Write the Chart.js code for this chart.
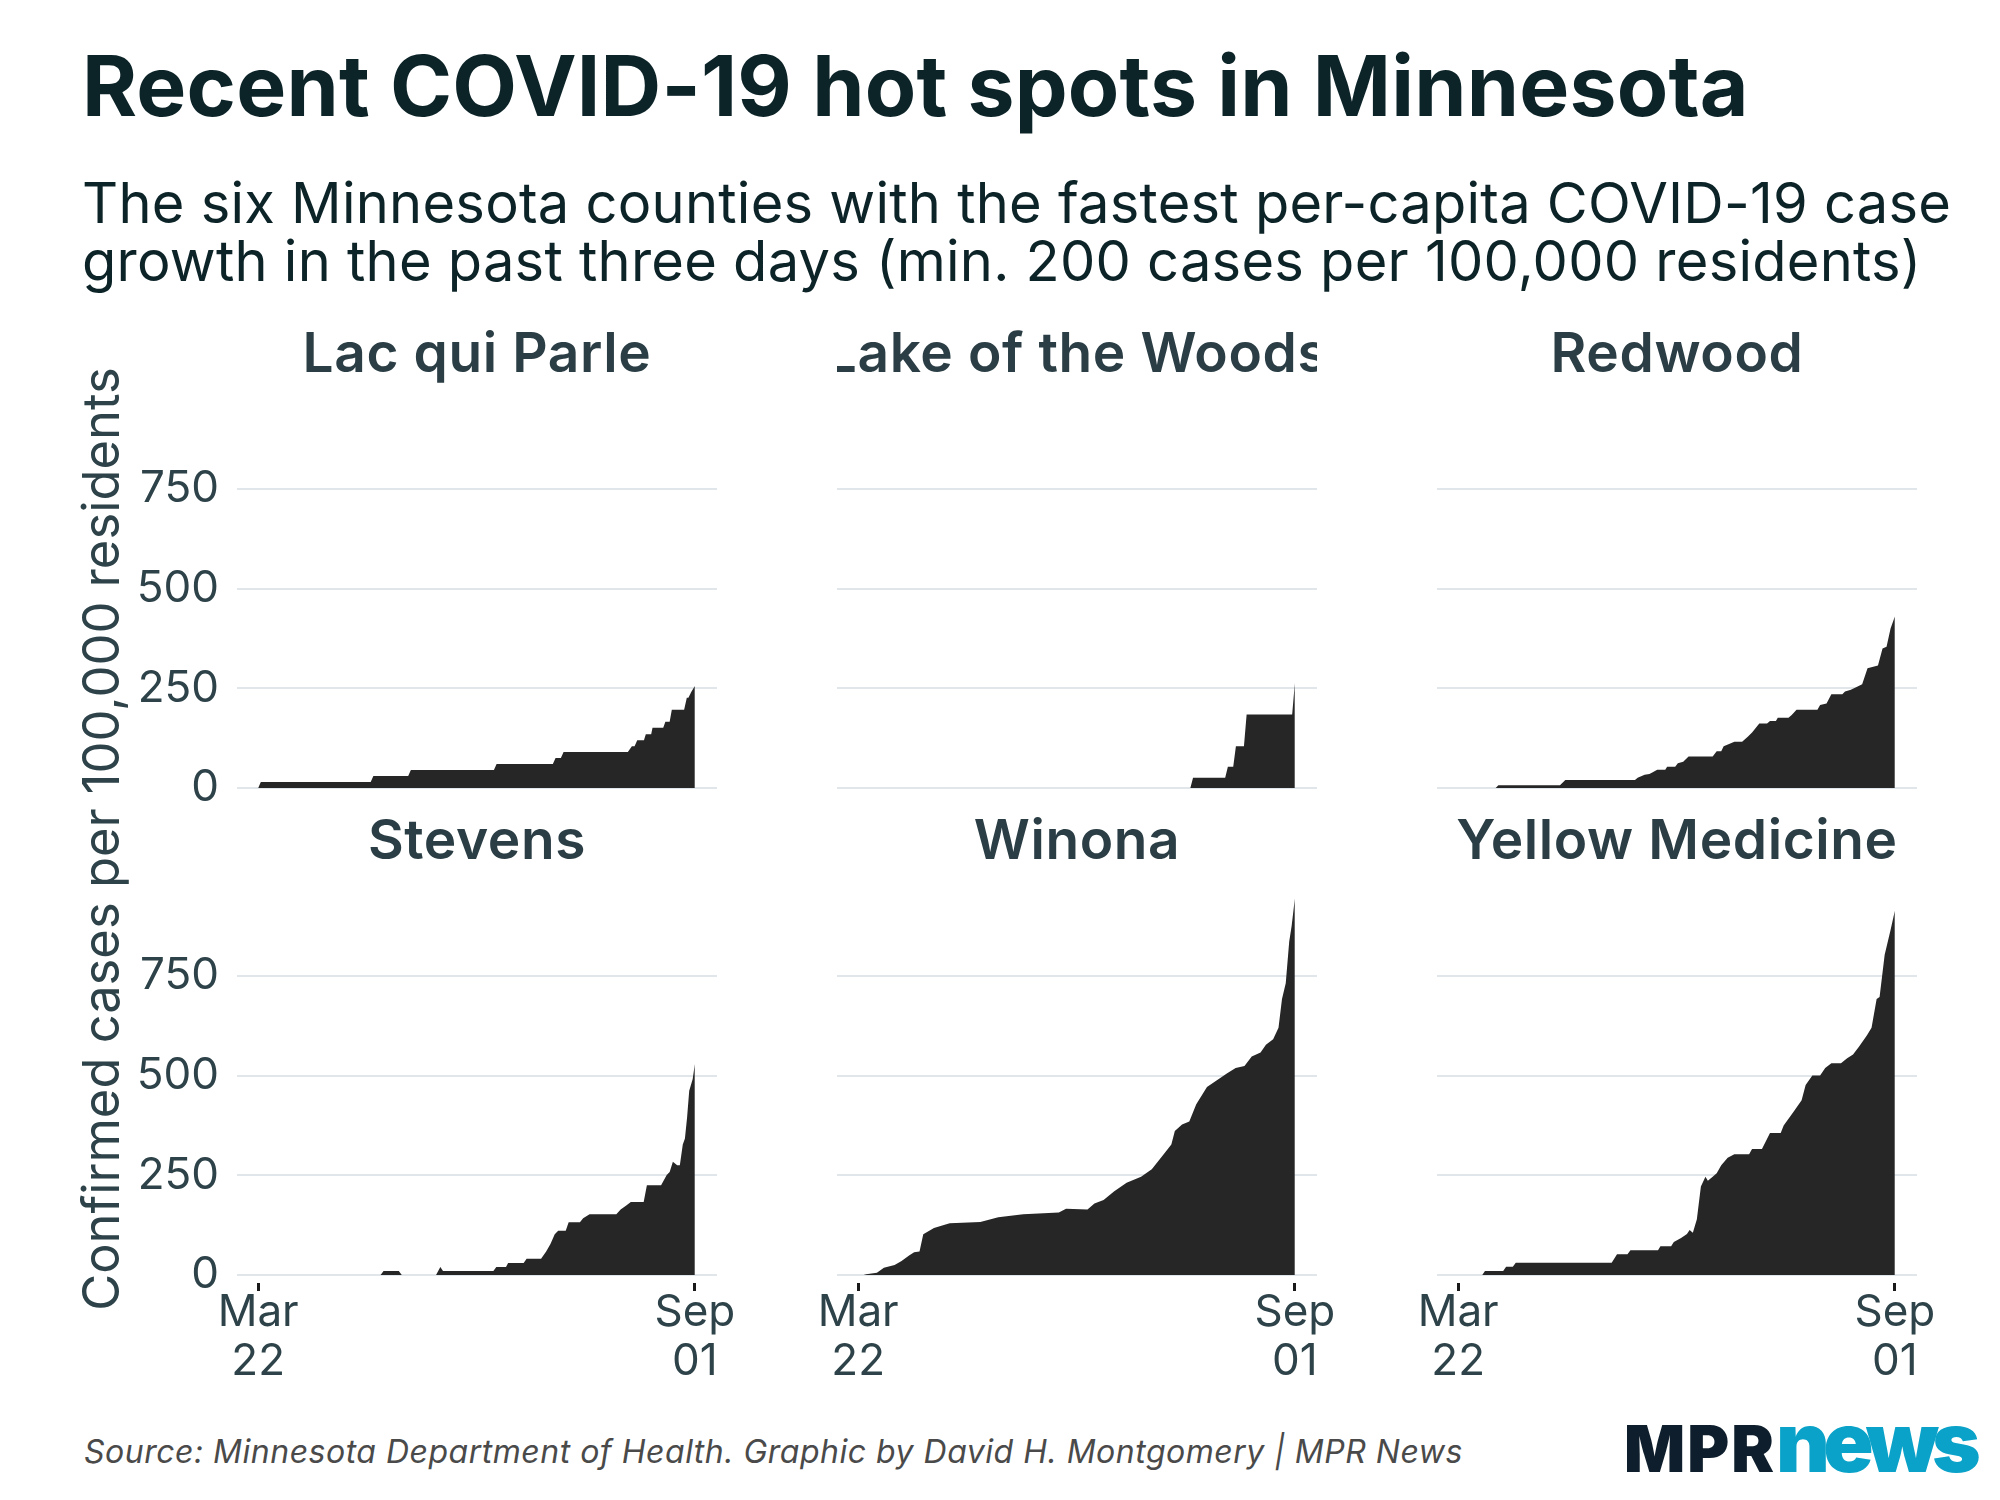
<!DOCTYPE html>
<html>
<head>
<meta charset="utf-8">
<script src="https://cdn.jsdelivr.net/npm/chart.js@4.4.1/dist/chart.umd.min.js"></script>
<style>
  body { margin: 0; background: #fff; width: 2000px; height: 1500px; position: relative; overflow: hidden; font-family: Inter, "Noto Sans", sans-serif; }
  .txt { position: absolute; white-space: nowrap; }
  #title { left: 82px; top: 44px; font-size: 84px; line-height: 84px; font-weight: 700; color: #0c2328; letter-spacing: 0.2px; }
  #subtitle { left: 82px; top: 174px; font-size: 56px; line-height: 58px; color: #0c2328; letter-spacing: 0.25px; }
  .strip { position: absolute; width: 480px; height: 60px; overflow: hidden; display: flex; justify-content: center;
           font-size: 55px; line-height: 55px; font-weight: 600; color: #2b3e45; white-space: nowrap; letter-spacing: 0.6px; }
  #ytitle { left: -399px; top: 813.5px; width: 1000px; height: 50px; font-size: 50.7px; line-height: 50px; text-align: center;
            color: #2d4249; transform: rotate(-90deg); }
  #source { left: 84px; top: 1436px; font-size: 32px; line-height: 32px; font-style: italic; color: #4a4a4a; letter-spacing: 0.5px; }
  #logo1 { left: 1624px; top: 1417.4px; font-size: 64px; line-height: 64px; font-weight: 900; color: #0e1e2c; letter-spacing: 2px; }
  #logo2 { left: 1776px; top: 1401px; font-size: 83px; line-height: 83px; font-weight: 900; color: #0aa2c8; letter-spacing: -6.7px; }
  canvas { position: absolute; }
</style>
</head>
<body>
<div id="title" class="txt">Recent COVID-19 hot spots in Minnesota</div>
<div id="subtitle" class="txt">The six Minnesota counties with the fastest per-capita COVID-19 case<br>growth in the past three days (min. 200 cases per 100,000 residents)</div>
<div id="ytitle" class="txt">Confirmed cases per 100,000 residents</div>
<div id="source" class="txt">Source: Minnesota Department of Health. Graphic by David H. Montgomery | MPR News</div>
<div id="logo1" class="txt">MPR</div>
<div id="logo2" class="txt">news</div>

<script>
// county names, in facet order
var countyNames = ['Lac qui Parle', 'Lake of the Woods', 'Redwood', 'Stevens', 'Winona', 'Yellow Medicine'];

// x = days since March 22, y = confirmed cases per 100,000 residents
var lacQuiParleDays = [0, 1, 42, 43, 56, 57, 88, 89, 110, 111, 113, 114, 138, 139.5, 140.5, 141.5, 144, 144.7, 146.7, 147.2, 151.2, 152, 153.6, 154.4, 159, 160, 160.6, 161.7, 163];
var lacQuiParleCases = [0, 15, 15, 30, 30, 45, 45, 60, 60, 75, 75, 90, 90, 105, 105, 120, 120, 135, 135, 151, 151, 166, 166, 196, 196, 226, 226, 241, 256];

var lakeWoodsDays = [0, 124, 125, 137, 138, 140, 141, 144, 145, 162, 163];
var lakeWoodsCases = [0, 0, 26, 26, 53, 53, 105, 105, 184, 184, 263];

var redwoodDays = [0, 14, 15, 38, 40, 66, 67, 69.6, 71.4, 72.8, 74.3, 77.3, 78, 81, 82, 84, 86, 95, 96.5, 98.2, 99.1, 100.9, 103.1, 106, 108.2, 109.7, 112.4, 115.3, 116.4, 118.6, 119.3, 123.3, 124.5, 126.3, 134.1, 135.1, 137.5, 139.3, 143.4, 144.4, 146.6, 148.9, 150.8, 152.8, 156.7, 158.4, 159.9, 161.4, 163];
var redwoodCases = [0, 0, 7, 7, 20, 20, 26, 33, 35, 40, 46, 46, 53, 53, 62, 66, 79, 79, 92, 92, 105, 110, 116, 116, 129, 139, 162, 162, 168, 168, 176, 176, 183, 196, 196, 208, 212, 235, 235, 242, 246, 254, 260, 300, 307, 350, 354, 400, 430];

var stevensDays = [0, 45.7, 46.8, 52.5, 53.6, 66.4, 68, 69, 87.8, 88.9, 92.5, 93.3, 99.1, 100.2, 105.6, 107.5, 109.1, 110.7, 112, 114.8, 115.9, 120.1, 121.3, 123.7, 133.7, 135.3, 137.4, 139.1, 143.9, 145.1, 150.4, 152.5, 153.6, 154.8, 156.4, 157.4, 158.5, 159.3, 160.1, 160.9, 162.2, 163];
var stevensCases = [0, 0, 10, 10, 0, 0, 20, 10, 10, 20, 20, 30, 30, 41, 41, 59, 78, 102, 111, 111, 132, 132, 142, 152, 152, 164, 174, 183, 183, 225, 225, 251, 258, 284, 275, 275, 327, 342, 395, 462, 491, 529];

var winonaDays = [0, 2, 3, 7, 9.6, 13.6, 16.2, 19, 20.9, 22.9, 24.3, 28.3, 32.3, 34.2, 45.6, 52.3, 61.6, 74.9, 77.6, 85.6, 88.2, 91.6, 95.6, 100.2, 105.6, 109.6, 113.6, 116.9, 118.2, 120.9, 123.6, 126.2, 130.2, 137.6, 140.9, 144.2, 146.9, 150.2, 152.2, 154.9, 156.9, 158.2, 159.6, 160.9, 161.8, 163];
var winonaCases = [0, 0, 2, 6, 18, 25, 35, 49, 57, 59, 102, 118, 126, 130, 133, 145, 152, 157, 166, 164, 179, 188, 210, 231, 246, 265, 299, 327, 361, 377, 385, 428, 471, 505, 519, 524, 548, 558, 577, 591, 620, 692, 731, 836, 875, 944];

var yellowMedDays = [0, 9, 10, 16.8, 17.9, 20.4, 21.5, 57.3, 59.3, 63.2, 64.3, 74.6, 75.5, 79.5, 80.5, 83.2, 85.4, 86.4, 87.6, 89.1, 90.6, 92.3, 93.2, 95, 96.5, 98.2, 100.6, 103.1, 108.6, 109.7, 113.4, 116.4, 120.4, 121.5, 125.2, 128.2, 129.7, 132.2, 135.1, 137, 139.3, 142.9, 145.2, 147.4, 149.6, 152.6, 154.3, 156.2, 157.3, 159.2, 161.4, 163];
var yellowMedCases = [0, 0, 10, 10, 21, 21, 31, 31, 52, 52, 62, 62, 72, 72, 83, 93, 103, 113, 106, 140, 222, 246, 236, 246, 255, 275, 294, 303, 303, 316, 316, 356, 356, 375, 409, 438, 476, 500, 500, 519, 531, 531, 543, 553, 572, 601, 620, 692, 697, 803, 865, 913];

var seriesDays = [lacQuiParleDays, lakeWoodsDays, redwoodDays, stevensDays, winonaDays, yellowMedDays];
var seriesCases = [lacQuiParleCases, lakeWoodsCases, redwoodCases, stevensCases, winonaCases, yellowMedCases];

// axis ticks
var yTickValues = [0, 250, 500, 750];
var xTickDays = [0, 163];
var xTickLabels = [['Mar', '22'], ['Sep', '01']];

// layout (page pixels)
var PLOT_LEFT = [237, 837, 1437];
var PLOT_TOP = [403, 890];
var PLOT_W = 480, PLOT_H = 393;
var Y_AXIS_W = 160, X_AXIS_H = 100, PAD_T = 10, PAD_R = 60;
var X_MIN = -7.9, X_MAX = 171.27;
var Y_MIN = -20, Y_MAX = 965;

var TICK_COLOR = '#2d4249';
var GRID_COLOR = '#e1e6ea';
var AREA_COLOR = '#262626';

function makePanel(idx) {
  var col = idx % 3;
  var row = Math.floor(idx / 3);
  var plotLeft = PLOT_LEFT[col];
  var plotTop = PLOT_TOP[row];

  // facet strip title, clipped to the panel width
  var strip = document.createElement('div');
  strip.className = 'strip';
  strip.style.left = plotLeft + 'px';
  strip.style.top = (plotTop - 78) + 'px';
  var span = document.createElement('span');
  span.textContent = countyNames[idx];
  strip.appendChild(span);
  document.body.appendChild(strip);

  var canvas = document.createElement('canvas');
  canvas.width = Y_AXIS_W + PLOT_W + PAD_R;
  canvas.height = PAD_T + PLOT_H + X_AXIS_H;
  canvas.style.left = (plotLeft - Y_AXIS_W) + 'px';
  canvas.style.top = (plotTop - PAD_T) + 'px';
  document.body.appendChild(canvas);

  var points = [];
  for (var i = 0; i < seriesDays[idx].length; i++) {
    points.push({ x: seriesDays[idx][i], y: seriesCases[idx][i] });
  }

  var showY = col == 0;
  var showX = row == 1;

  new Chart(canvas.getContext('2d'), {
    type: 'line',
    data: {
      datasets: [{
        data: points,
        fill: 'origin',
        backgroundColor: AREA_COLOR,
        borderColor: 'rgba(0,0,0,0)',
        borderWidth: 0,
        pointRadius: 0,
        tension: 0
      }]
    },
    options: {
      responsive: false,
      animation: false,
      events: [],
      layout: { padding: { left: 0, top: PAD_T, right: PAD_R, bottom: 0 } },
      plugins: { legend: { display: false }, tooltip: { enabled: false } },
      scales: {
        x: {
          type: 'linear',
          min: X_MIN,
          max: X_MAX,
          border: { display: false },
          grid: { display: showX, drawOnChartArea: false, drawTicks: true, tickLength: 8, tickWidth: 3, tickColor: '#1a1a1a' },
          ticks: {
            display: showX,
            autoSkip: false,
            maxRotation: 0,
            padding: -2,
            color: TICK_COLOR,
            font: { family: 'Inter', size: 44, lineHeight: 1.1 },
            callback: function(v) {
              var k = xTickDays.indexOf(v);
              return k >= 0 ? xTickLabels[k] : '';
            }
          },
          afterBuildTicks: function(scale) {
            scale.ticks = xTickDays.map(function(d) { return { value: d }; });
          },
          afterFit: function(scale) {
            scale.height = X_AXIS_H;
            scale.paddingLeft = 0;
            scale.paddingRight = 0;
          }
        },
        y: {
          min: Y_MIN,
          max: Y_MAX,
          border: { display: false },
          grid: { color: GRID_COLOR, lineWidth: 2, drawTicks: false },
          ticks: {
            display: showY,
            padding: 18,
            color: TICK_COLOR,
            font: { family: 'Inter', size: 44 }
          },
          afterBuildTicks: function(scale) {
            scale.ticks = yTickValues.map(function(v) { return { value: v }; });
          },
          afterFit: function(scale) {
            scale.width = Y_AXIS_W;
            scale.paddingTop = 0;
            scale.paddingBottom = 0;
          }
        }
      }
    }
  });
}

for (var p = 0; p < countyNames.length; p++) {
  makePanel(p);
}
</script>
</body>
</html>
